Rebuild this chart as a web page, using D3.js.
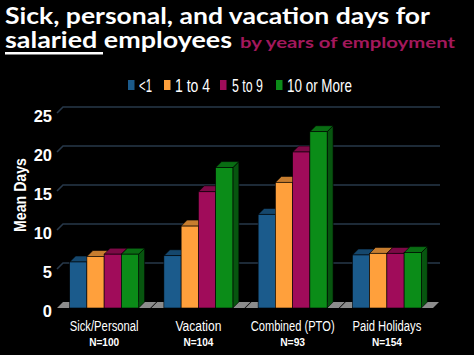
<!DOCTYPE html>
<html><head><meta charset="utf-8">
<script src="https://cdn.jsdelivr.net/npm/d3@7"></script>
<style>html,body{margin:0;padding:0;background:#000;}svg{display:block;}</style>
</head><body>
<script>
const categories = ["Sick/Personal", "Vacation", "Combined (PTO)", "Paid Holidays"];
const nLabels = ["N=100", "N=104", "N=93", "N=154"];
const series = ["<1", "1 to 4", "5 to 9", "10 or More"];
const lessThan1 = [5.9, 6.7, 12.0, 6.8];
const oneTo4 = [6.6, 10.5, 16.1, 7.0];
const fiveTo9 = [6.9, 14.9, 20.0, 7.0];
const tenOrMore = [6.9, 18.0, 22.6, 7.1];
const yTicks = [0, 5, 10, 15, 20, 25];
const colors = ["#1b5b8c", "#ffa03c", "#a00c5a", "#0b8c18"];

const values = [lessThan1, oneTo4, fiveTo9, tenOrMore];
const W = 474, H = 355, DX = 6, DY = 6;

const svg = d3.select("body").append("svg").attr("width", W).attr("height", H)
  .style("background", "#000");

function txt(g, s, x, y, opts) {
  const t = g.append("text").attr("x", x).attr("y", y).text(s)
    .attr("fill", opts.fill || "#fff")
    .attr("font-family", opts.family || "Liberation Sans, Arial, sans-serif")
    .attr("font-size", opts.size)
    .attr("font-weight", opts.weight || "bold")
    .attr("text-anchor", opts.anchor || "start");
  if (opts.len) t.attr("textLength", opts.len).attr("lengthAdjust", "spacingAndGlyphs");
  return t;
}
// text horizontally scaled to a target width via transform (keeps real bbox narrow)
function fitTxt(g, s, x, y, target, opts) {
  const t = txt(g, s, 0, 0, opts);
  const w = t.node().getComputedTextLength() || target;
  t.attr("transform", `translate(${x},${y}) scale(${target / w},1)`);
  return t;
}

// Title
const tf = "Lato, 'Open Sans', sans-serif";
txt(svg, "Sick, personal, and vacation days for", 5, 24, {size: 23, family: tf, len: 425});
txt(svg, "salaried employees", 5, 48, {size: 23.5, family: tf, len: 227});
svg.append("rect").attr("x", 5).attr("y", 52).attr("width", 98).attr("height", 2.5).attr("fill", "#fff");
txt(svg, "by years of employment", 240, 48, {size: 15.5, family: tf, len: 215, fill: "#a3185c"});

// Scales
const yF = d3.scaleLinear().domain([0, 25]).range([308, 113]);
const x0 = d3.scaleBand().domain(categories).range([57, 434]).paddingInner(0.268).paddingOuter(0.134);
const x1 = d3.scaleBand().domain(series).range([0, x0.bandwidth()]).padding(0);

// Floor segments per band
const step = x0.step();
const floorG = svg.append("g");
categories.forEach((c, i) => {
  const a = 57 + i * step, b = 57 + (i + 1) * step;
  const y0 = yF(0);
  floorG.append("polygon")
    .attr("points", [[a, y0], [a + DX, y0 - DY], [b + DX - 1, y0 - DY], [b - 1, y0]].map(p => p.join(",")).join(" "))
    .attr("fill", "#8c8c8c");
});

// Gridlines (back wall) with left diagonal
const gridG = svg.append("g");
yTicks.filter(v => v > 0).forEach(v => {
  const y = yF(v);
  gridG.append("path")
    .attr("d", `M57,${y} L${57 + DX},${y - DY} L${440},${y - DY}`)
    .attr("fill", "none").attr("stroke", "#27384a").attr("stroke-width", 1.6);
});

// Y axis
const yAxis = d3.axisLeft(yF).tickValues(yTicks).tickSize(0).tickPadding(5);
const ya = svg.append("g").attr("transform", "translate(57,3)").call(yAxis);
ya.select(".domain").remove();
ya.selectAll("text").attr("fill", "#fff").attr("font-family", "Liberation Sans, Arial, sans-serif")
  .attr("font-size", 16.5).attr("font-weight", "bold");

// Y title
const yt = txt(svg, "Mean Days", 0, 0, {size: 17, anchor: "middle", len: 74});
yt.attr("transform", "translate(26,195) rotate(-90)");

// Bars
const barsG = svg.append("g");
categories.forEach((c, ci) => {
  const g = barsG.append("g").attr("transform", `translate(${x0(c)},0)`);
  series.forEach((s, si) => {
    const v = values[si][ci];
    const x = x1(s), w = x1.bandwidth(), y = yF(v), yb = yF(0);
    const col = d3.color(colors[si]);
    g.append("polygon")
      .attr("points", [[x + w, y], [x + w + DX, y - DY], [x + w + DX, yb - DY], [x + w, yb]].map(p => p.join(",")).join(" "))
      .attr("fill", col.darker(1.4)).attr("stroke", "#000").attr("stroke-width", 0.6);
    g.append("polygon")
      .attr("points", [[x, y], [x + DX, y - DY], [x + w + DX, y - DY], [x + w, y]].map(p => p.join(",")).join(" "))
      .attr("fill", col.darker(0.7)).attr("stroke", "#000").attr("stroke-width", 0.6);
    g.append("rect").attr("x", x).attr("y", y).attr("width", w).attr("height", yb - y)
      .attr("fill", colors[si]).attr("stroke", "#000").attr("stroke-width", 0.6);
  });
});

// Category labels
const catLens = [69, 46, 84, 69];
const nLens = [30, 30, 25, 30];
categories.forEach((c, i) => {
  const cx = x0(c) + x0.bandwidth() / 2;
  fitTxt(svg, c, cx, 331, catLens[i], {size: 15.5, anchor: "middle", weight: "normal"});
  fitTxt(svg, nLabels[i], cx, 346, nLens[i], {size: 10, anchor: "middle"});
});

// Legend
const legSq = [128, 164, 220, 276];
const legTx = [139, 175, 232, 287];
const legLen = [13, 35, 31, 65];
series.forEach((s, i) => {
  svg.append("rect").attr("x", legSq[i]).attr("y", 80).attr("width", 6.5).attr("height", 10).attr("fill", colors[i]);
  fitTxt(svg, s, legTx[i], 92, legLen[i], {size: 19, weight: "normal"});
});
</script>
</body></html>
